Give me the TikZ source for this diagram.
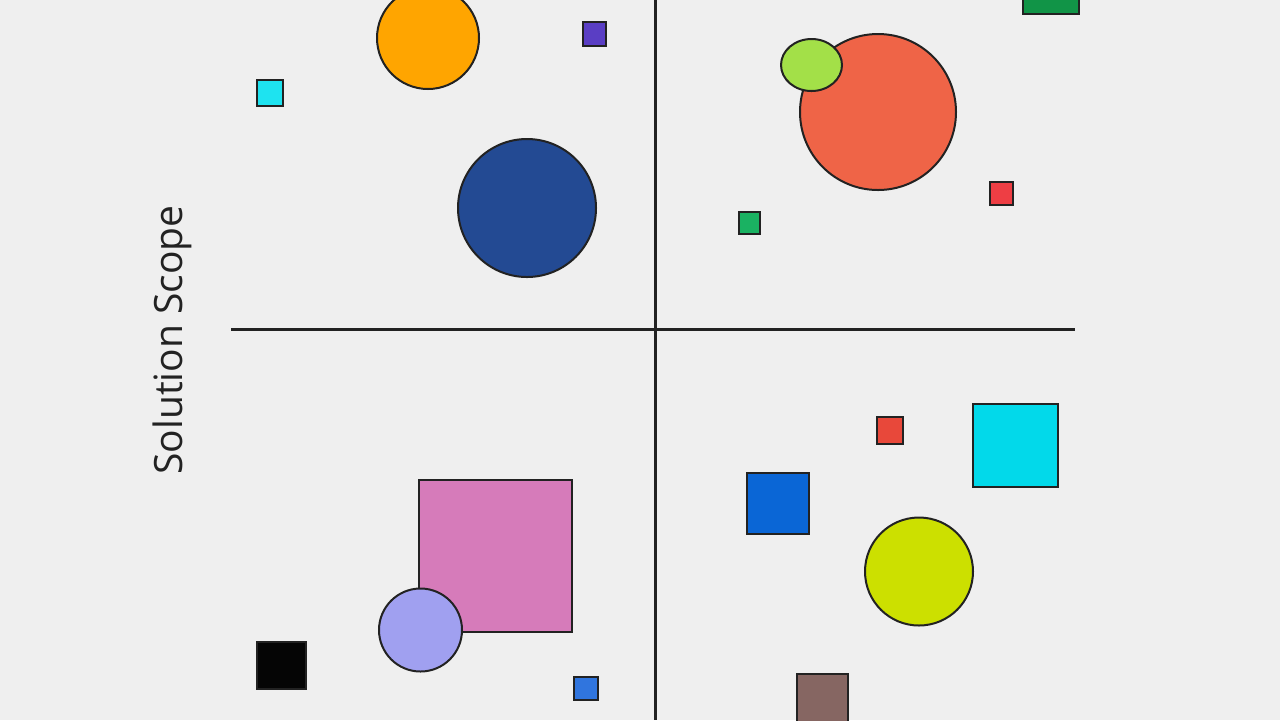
\documentclass[tikz,border=0pt]{standalone}
\usepackage{fontspec}
\setmainfont{Open Sans}
\definecolor{bg}{HTML}{EFEFEF}
\definecolor{ink}{HTML}{222222}
\definecolor{corange}{HTML}{FFA500}
\definecolor{cpurple}{HTML}{5A3EC4}
\definecolor{ccyanA}{HTML}{1EE3F0}
\definecolor{cnavy}{HTML}{234A93}
\definecolor{cdkgreen}{HTML}{119447}
\definecolor{ctomato}{HTML}{EF6447}
\definecolor{clime}{HTML}{A3E048}
\definecolor{credA}{HTML}{EE3E44}
\definecolor{cgreenA}{HTML}{1AB262}
\definecolor{cpink}{HTML}{D67BBA}
\definecolor{clav}{HTML}{A0A0F0}
\definecolor{cblack}{HTML}{050505}
\definecolor{cblueA}{HTML}{3075DE}
\definecolor{credB}{HTML}{E8483A}
\definecolor{ccyanB}{HTML}{02D9EA}
\definecolor{cblueB}{HTML}{0A66D6}
\definecolor{cyel}{HTML}{CCE000}
\definecolor{cbrown}{HTML}{866662}
\tikzset{
  shp/.style={draw=ink, line width=1pt},
  axis/.style={draw=ink, line width=1.5pt},
  lbl/.style={font=\fontsize{19.5}{23}\selectfont, text=ink, rotate=90, inner sep=0pt}
}
\begin{document}
\begin{tikzpicture}[x=0.5pt,y=-0.5pt]
\useasboundingbox (0,0) rectangle (1280,720);
\clip (0,0) rectangle (1280,720);
\fill[bg] (0,0) rectangle (1280,720);
% axes
\coordinate (vt) at (655,0);
\coordinate (vb) at (655,720);
\coordinate (hl) at (231,329);
\coordinate (hr) at (1075,329);
\draw[axis] (vt) -- (vb);
\draw[axis] (hl) -- (hr);
% label
\node[lbl] (scope) at (172,340) {Solution Scope};
% top-left
\draw[shp, fill=corange] (428,38) circle[radius=51];
\draw[shp, fill=cpurple] (583,22) rectangle (606,46);
\draw[shp, fill=ccyanA] (257,80) rectangle (283,106);
\draw[shp, fill=cnavy] (527,208) circle[radius=69];
% top-right
\draw[shp, fill=cdkgreen] (1023,-42) rectangle (1079,14);
\draw[shp, fill=ctomato] (878,112) circle[radius=78];
\draw[shp, fill=clime] (811.5,65) ellipse[x radius=30.5, y radius=26];
\draw[shp, fill=credA] (990,182) rectangle (1013,205);
\draw[shp, fill=cgreenA] (739,212) rectangle (760,234);
% bottom-left
\draw[shp, fill=cpink] (419,480) rectangle (572,632);
\draw[shp, fill=clav] (420.5,630) circle[radius=41.5];
\draw[shp, fill=cblack] (257,642) rectangle (306,689);
\draw[shp, fill=cblueA] (574,677) rectangle (598,700);
% bottom-right
\draw[shp, fill=credB] (877,417) rectangle (903,444);
\draw[shp, fill=ccyanB] (973,404) rectangle (1058,487);
\draw[shp, fill=cblueB] (747,473) rectangle (809,534);
\draw[shp, fill=cyel] (919,571.5) circle[radius=54];
\draw[shp, fill=cbrown] (797,674) rectangle (848,725);
\end{tikzpicture}
\end{document}
